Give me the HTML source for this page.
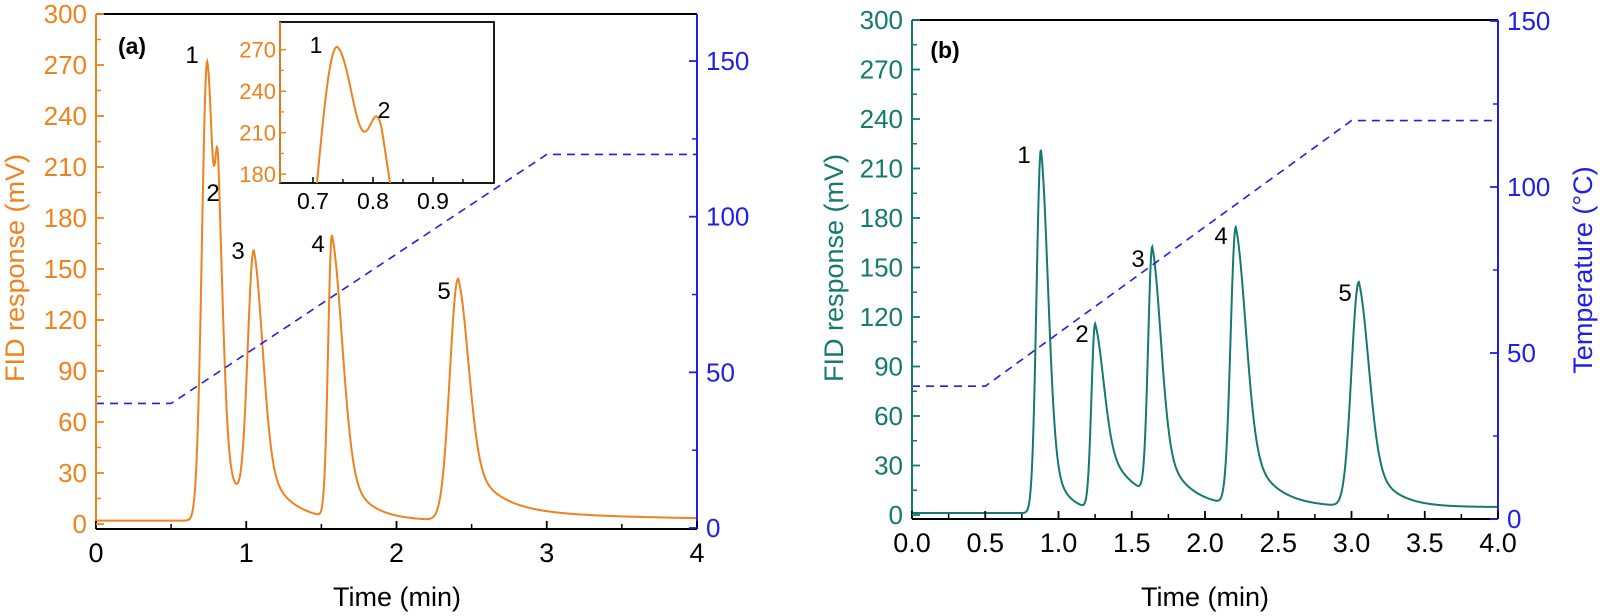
<!DOCTYPE html>
<html><head><meta charset="utf-8"><style>
html,body{margin:0;padding:0;background:#fff;}
svg{display:block;font-family:"Liberation Sans",Arial,sans-serif;}
</style></head><body>
<svg id="s" width="1600" height="616" viewBox="0 0 1600 616" xmlns="http://www.w3.org/2000/svg"></svg>
<script>
const S=document.getElementById('s');let h='';
const OR='#f0821e',TE='#137a6e',BL='#1f1fe8';
function shape(d,p){if(d<0)return Math.exp(-d*d/(2*p.sl*p.sl));
 const w=p.w,w2=p.w2||0;return (1-w-w2)*Math.exp(-d*d/(2*p.sr*p.sr))+w*Math.exp(-d/p.tau)+w2*Math.exp(-d/(p.tau2||1));}
function curve(peaks,base,t){let v=base(t);for(const p of peaks)v+=p.A*shape(t-p.t0,p);return v;}
function path(fn,t0,t1,X,Y,n){let s='';for(let i=0;i<=n;i++){const t=t0+(t1-t0)*i/n;s+=(i?'L':'M')+X(t).toFixed(2)+' '+Y(fn(t)).toFixed(2);}return s;}
function txt(x,y,s,o){o=o||{};h+=`<text x="${x}" y="${y}" font-size="${o.fs||22}" fill="${o.c||'#000'}" text-anchor="${o.a||'middle'}" ${o.b?'font-weight="bold"':''} ${o.r?`transform="rotate(-90 ${x} ${y})"`:''}>${s}</text>`;}
function line(x1,y1,x2,y2,c,w){h+=`<line x1="${x1}" y1="${y1}" x2="${x2}" y2="${y2}" stroke="${c}" stroke-width="${w||2}"/>`;}

function panel(P){
 const X=t=>P.x0+(t-P.t0)*P.xs, Y=v=>P.y0-v*P.ys, YT=v=>P.ty0-v*P.ts;
 h+=`<path d="${path(P.fn,P.t0,P.t1,X,Y,1600)}" fill="none" stroke="${P.c}" stroke-width="2"/>`;
 const tp=[[0,40],[0.5,40],[3,120],[4,120]];
 h+=`<path d="M${tp.map(p=>X(p[0])+' '+YT(p[1])).join('L')}" fill="none" stroke="${BL}" stroke-width="1.6" stroke-dasharray="8,6"/>`;
 line(P.L,P.T,P.R,P.T,'#000');line(P.L,P.B,P.R,P.B,'#000');
 line(P.L,P.T,P.L,P.B,P.c);line(P.R,P.T,P.R,P.B,BL);
 for(const t of P.xt){const x=X(t);line(x,P.B,x,P.B-8,'#000',1.8);txt(x,P.B+33,P.xf(t),{fs:27});}
 for(const t of P.xm){const x=X(t);line(x,P.B,x,P.B-5,'#000',1.5);}
 for(let v=0;v<=300;v+=30){const y=Y(v);line(P.L,y,P.L+8,y,P.c,1.8);txt(P.L-9,y+9,v,{a:'end',c:P.c,fs:26});}
 for(let v=15;v<300;v+=30){const y=Y(v);line(P.L,y,P.L+5,y,P.c,1.5);}
 for(let v=0;v<=150;v+=50){const y=YT(v);line(P.R,y,P.R-8,y,BL,1.8);txt(P.R+9,y+9,v,{a:'start',c:BL,fs:26});}
 for(let v=25;v<=150;v+=50){const y=YT(v);if(y>P.T)line(P.R,y,P.R-5,y,BL,1.5);}
 txt(P.ylx,P.yly,'FID response (mV)',{r:1,c:P.c,fs:27});
 txt(P.xlx,606,'Time (min)',{fs:27});
 for(const l of P.labels)txt(l[0],l[1],l[2],{fs:24});
 txt(P.tag[0],P.tag[1],P.tag[2],{b:1,fs:23});
}

const fa=t=>curve([
 {t0:.74,A:270,sl:.035,sr:.045,w:.1,tau:.1},
 {t0:.815,A:136,sl:.02,sr:.035,w:.3,tau:.12},
 {t0:1.05,A:152,sl:.04,sr:.06,w:.32,tau:.16},
 {t0:1.57,A:166,sl:.025,sr:.07,w:.3,tau:.15},
 {t0:2.41,A:142,sl:.055,sr:.07,w:.3,tau:.18,w2:.05,tau2:1.0}
],t=>2,t);
panel({x0:96,t0:0,t1:4,xs:150.25,y0:524,ys:1.7,ty0:528,ts:3.113,fn:fa,c:OR,
 L:96,R:697,T:14,B:529,xt:[0,1,2,3,4],xm:[.5,1.5,2.5,3.5],xf:t=>t,
 ylx:24,yly:268,xlx:397,
 labels:[[192,63,'1'],[213,201,'2'],[238,259,'3'],[318,252,'4'],[444,299,'5']],tag:[132,54,'(a)']});

const fb=t=>curve([
 {t0:.88,A:220,sl:.03,sr:.05,w:.3,tau:.1},
 {t0:1.25,A:112,sl:.025,sr:.06,w:.5,tau:.2},
 {t0:1.64,A:150,sl:.028,sr:.06,w:.35,tau:.15},
 {t0:2.21,A:168,sl:.035,sr:.07,w:.35,tau:.17},
 {t0:3.05,A:136,sl:.05,sr:.07,w:.35,tau:.15}
],t=>1.2+3.6/(1+Math.exp(-(t-1.35)/0.12)),t);
panel({x0:912,t0:0,t1:4,xs:146.5,y0:515,ys:1.65,ty0:519,ts:3.32,fn:fb,c:TE,
 L:912,R:1498,T:20,B:519,xt:[0,.5,1,1.5,2,2.5,3,3.5,4],xm:[.25,.75,1.25,1.75,2.25,2.75,3.25,3.75],xf:t=>t.toFixed(1),
 ylx:843,yly:268,xlx:1205,
 labels:[[1024,163,'1'],[1082,342,'2'],[1138,267,'3'],[1221,244,'4'],[1345,301,'5']],tag:[945,58,'(b)']});
txt(1592,270,'Temperature (°C)',{r:1,c:BL,fs:27});

(function(){
 const L=280,R=494,T=22,B=183,X=t=>L+(t-0.645)*600,Y=v=>B-(v-173.6)*1.383;
 h+=`<rect x="${L}" y="${T}" width="${R-L}" height="${B-T}" fill="#fff" stroke="#000" stroke-width="1.8"/>`;
 h+=`<clipPath id="ic"><rect x="${L}" y="${T}" width="${R-L}" height="${B-T}"/></clipPath>`;
 h+=`<path clip-path="url(#ic)" d="${path(fa,0.66,0.9,X,Y,400)}" fill="none" stroke="${OR}" stroke-width="2"/>`;
 line(L,T,L,B,OR,1.8);
 for(const t of [.7,.8,.9]){const x=X(t);line(x,B,x,B-6,'#000',1.5);txt(x,B+26,t.toFixed(1),{fs:23});}
 for(const t of [.75,.85,.95]){const x=X(t);line(x,B,x,B-4,'#000',1.3);}
 for(const v of [180,210,240,270]){const y=Y(v);line(L,y,L+6,y,OR,1.5);txt(L-4,y+8,v,{a:'end',c:OR,fs:22});}
 for(const v of [195,225,255]){const y=Y(v);line(L,y,L+4,y,OR,1.3);}
 txt(316,53,'1',{fs:23});txt(384,118,'2',{fs:23});
})();
S.innerHTML=h;
</script>
</body></html>
